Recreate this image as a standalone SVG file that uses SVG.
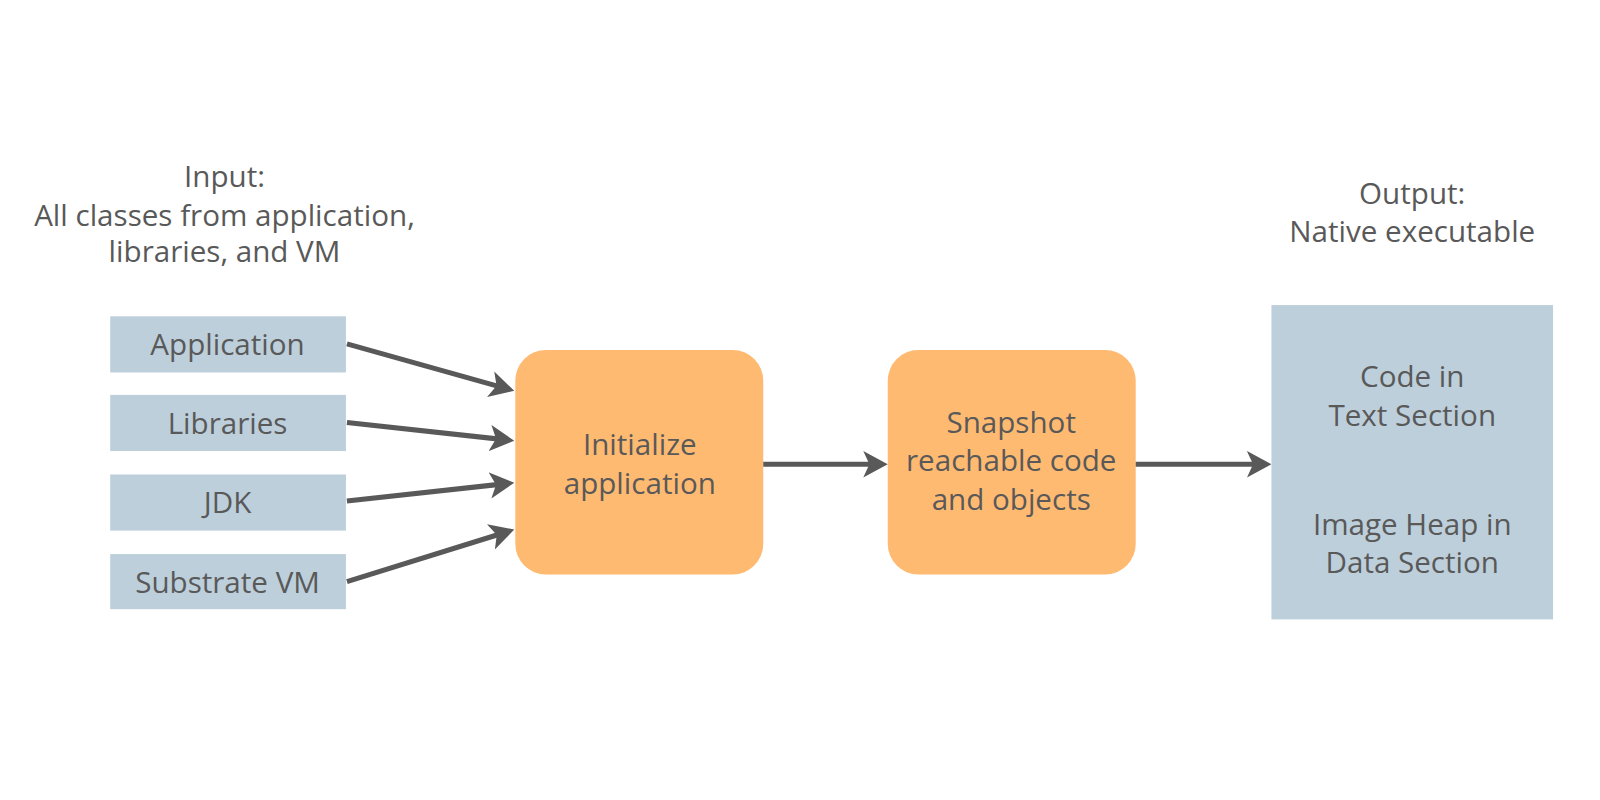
<svg xmlns="http://www.w3.org/2000/svg" width="1600" height="800" viewBox="0 0 1600 800">
<style>
text{font-family:"Open Sans","Noto Sans","DejaVu Sans",sans-serif;font-size:29px;fill:#595959;text-anchor:middle}
.in{fill:#BDCFDB}
.proc{fill:#FFBA72}
.conn{stroke:#595959;stroke-width:5;fill:none;marker-end:url(#ah)}
</style>
<defs>
<marker id="ah" markerUnits="userSpaceOnUse" markerWidth="24" markerHeight="26" viewBox="0 0 24 26" refX="7" refY="13" orient="auto">
<path d="M0,0 L24,13 L0,26 L6,13 z" fill="#595959"/>
</marker>
</defs>
<rect width="1600" height="800" fill="#ffffff"/>
<g id="diagram" transform="scale(1.020408)">
<g id="input-label">
<text x="220" y="183">Input:</text>
<text x="220" y="221">All classes from application,</text>
<text x="220" y="257">libraries, and VM</text>
</g>
<g id="output-label">
<text x="1384" y="200">Output:</text>
<text x="1384" y="237">Native executable</text>
</g>
<g id="application">
<rect class="in" x="108" y="310" width="231" height="55"/>
<text x="223" y="348">Application</text>
</g>
<g id="libraries">
<rect class="in" x="108" y="387" width="231" height="55"/>
<text x="223" y="425">Libraries</text>
</g>
<g id="jdk">
<rect class="in" x="108" y="465" width="231" height="55"/>
<text x="223" y="503">JDK</text>
</g>
<g id="substratevm">
<rect class="in" x="108" y="543" width="231" height="54"/>
<text x="223" y="581">Substrate VM</text>
</g>
<g id="initialize">
<rect class="proc" x="505" y="343" width="243" height="220" rx="30"/>
<text x="627" y="446">Initialize</text>
<text x="627" y="484">application</text>
</g>
<g id="snapshot">
<rect class="proc" x="870" y="343" width="243" height="220" rx="30"/>
<text x="991" y="424">Snapshot</text>
<text x="991" y="462">reachable code</text>
<text x="991" y="500">and objects</text>
</g>
<g id="output">
<rect class="in" x="1246" y="299" width="276" height="308"/>
<text x="1384" y="379">Code in</text>
<text x="1384" y="417">Text Section</text>
<text x="1384" y="524">Image Heap in</text>
<text x="1384" y="562">Data Section</text>
</g>
<g id="connectors">
<path class="conn" d="M340,337 L487.6,378.4"/>
<path class="conn" d="M340,414 L487.1,430.1"/>
<path class="conn" d="M340,491 L487.1,474.9"/>
<path class="conn" d="M340,570 L487.8,524"/>
<path class="conn" d="M748,455 L853,455"/>
<path class="conn" d="M1113,455 L1229,455"/>
</g>
</g>
</svg>
